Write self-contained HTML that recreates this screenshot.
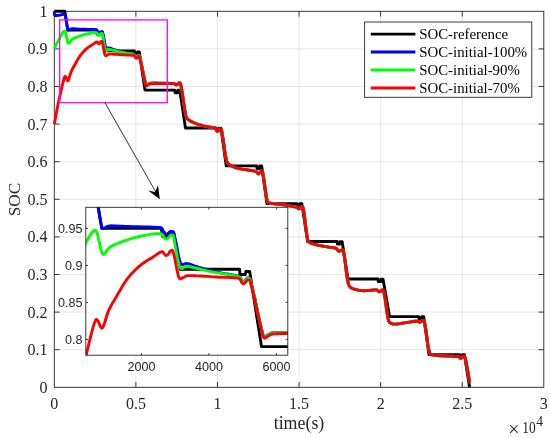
<!DOCTYPE html>
<html lang="en"><head><meta charset="utf-8"><title>SOC estimation</title>
<style>html,body{margin:0;padding:0;background:#fff}svg{display:block}</style></head>
<body>
<svg width="550" height="438" viewBox="0 0 550 438">
<defs>
<clipPath id="cm"><rect x="52.3" y="8.3" width="493.49999999999994" height="379.6"/></clipPath>
<clipPath id="ci"><rect x="85.8" y="207.3" width="202.0" height="147.89999999999998"/></clipPath>
</defs>
<rect width="550" height="438" fill="#fff"/>
<path d="M135.88,11.3 V387.3 M217.47,11.3 V387.3 M299.05,11.3 V387.3 M380.63,11.3 V387.3 M462.22,11.3 V387.3 M54.3,387.30 H543.8 M54.3,349.70 H543.8 M54.3,312.10 H543.8 M54.3,274.50 H543.8 M54.3,236.90 H543.8 M54.3,199.30 H543.8 M54.3,161.70 H543.8 M54.3,124.10 H543.8 M54.3,86.50 H543.8 M54.3,48.90 H543.8" stroke="#e1e1e1" stroke-width="0.85" fill="none"/>
<path d="M135.88,387.3 v-5.3 M135.88,11.3 v5.3 M217.47,387.3 v-5.3 M217.47,11.3 v5.3 M299.05,387.3 v-5.3 M299.05,11.3 v5.3 M380.63,387.3 v-5.3 M380.63,11.3 v5.3 M462.22,387.3 v-5.3 M462.22,11.3 v5.3 M54.3,349.70 h5.3 M543.8,349.70 h-5.3 M54.3,312.10 h5.3 M543.8,312.10 h-5.3 M54.3,274.50 h5.3 M543.8,274.50 h-5.3 M54.3,236.90 h5.3 M543.8,236.90 h-5.3 M54.3,199.30 h5.3 M543.8,199.30 h-5.3 M54.3,161.70 h5.3 M543.8,161.70 h-5.3 M54.3,124.10 h5.3 M543.8,124.10 h-5.3 M54.3,86.50 h5.3 M543.8,86.50 h-5.3 M54.3,48.90 h5.3 M543.8,48.90 h-5.3" stroke="#262626" stroke-width="0.9" fill="none"/>
<rect x="54.3" y="11.3" width="489.49999999999994" height="376.0" fill="none" stroke="#262626" stroke-width="0.9"/>
<g clip-path="url(#cm)" fill="none" stroke-linejoin="round" stroke-linecap="butt">
<path d="M54.30,11.30 L64.82,11.30 L67.76,30.10 L96.56,30.10 L97.21,34.24 L99.82,34.24 L100.31,32.36 L102.43,32.36 L105.70,50.89 L134.38,50.89 L134.55,53.52 L137.16,53.52 L137.40,52.02 L139.28,52.02 L144.99,90.15 L174.88,90.15 L175.04,92.78 L177.65,92.78 L177.90,90.26 L179.78,90.26 L185.49,128.01 L216.08,128.01 L216.24,130.64 L218.85,130.64 L219.10,128.12 L220.97,128.12 L226.20,165.84 L256.79,165.84 L256.95,168.47 L259.56,168.47 L259.81,165.95 L261.68,165.95 L266.91,203.59 L296.96,203.59 L297.12,206.22 L299.74,206.22 L299.98,203.70 L301.86,203.70 L307.57,241.49 L337.23,241.49 L337.39,244.12 L340.00,244.12 L340.25,241.60 L342.13,241.60 L348.00,279.01 L378.10,279.01 L378.27,281.64 L380.88,281.64 L381.12,279.12 L383.00,279.12 L389.53,316.61 L418.83,316.61 L418.99,319.24 L421.60,319.24 L421.85,316.72 L423.73,316.72 L428.95,354.59 L459.52,354.59 L459.69,357.22 L462.30,357.22 L462.54,354.70 L464.42,354.70 L469.56,387.30" stroke="#000" stroke-width="2.9"/>
<path d="M54.30,11.30 L54.34,12.11 L54.38,12.94 L54.42,13.72 L54.46,14.38 L54.50,14.85 L54.54,15.06 L54.67,15.21 L54.79,15.33 L54.91,15.41 L55.03,15.47 L55.16,15.50 L55.28,15.51 L55.93,15.50 L56.58,15.47 L57.24,15.43 L57.89,15.38 L58.54,15.31 L59.19,15.25 L59.96,15.12 L60.72,14.92 L61.48,14.68 L62.24,14.46 L63.00,14.30 L63.76,14.23 L63.99,14.24 L64.23,14.28 L64.46,14.34 L64.69,14.43 L64.92,14.54 L65.15,14.68 L65.29,14.97 L65.43,15.59 L65.57,16.43 L65.71,17.38 L65.84,18.34 L65.98,19.20 L66.24,20.73 L66.50,22.37 L66.77,24.02 L67.03,25.61 L67.29,27.03 L67.55,28.22 L67.65,28.65 L67.76,29.10 L67.86,29.52 L67.96,29.88 L68.07,30.12 L68.17,30.21 L68.31,30.20 L68.44,30.18 L68.58,30.14 L68.71,30.09 L68.85,30.04 L68.98,29.99 L69.23,29.87 L69.47,29.72 L69.72,29.54 L69.96,29.37 L70.21,29.22 L70.45,29.12 L70.75,29.04 L71.05,28.96 L71.35,28.89 L71.65,28.83 L71.95,28.80 L72.25,28.78 L73.61,28.81 L74.97,28.86 L76.33,28.94 L77.69,29.02 L79.05,29.10 L80.41,29.16 L82.91,29.23 L85.41,29.28 L87.90,29.33 L90.40,29.38 L92.90,29.46 L95.40,29.57 L95.58,29.59 L95.76,29.60 L95.94,29.62 L96.12,29.65 L96.30,29.68 L96.48,29.72 L96.66,29.85 L96.83,30.09 L97.01,30.42 L97.19,30.78 L97.36,31.13 L97.54,31.42 L97.77,31.77 L98.01,32.14 L98.24,32.50 L98.47,32.81 L98.71,33.03 L98.94,33.11 L99.12,33.08 L99.29,33.01 L99.46,32.91 L99.64,32.79 L99.81,32.67 L99.99,32.54 L100.17,32.40 L100.35,32.21 L100.53,32.00 L100.70,31.82 L100.88,31.69 L101.06,31.64 L101.27,31.65 L101.48,31.66 L101.69,31.68 L101.90,31.71 L102.11,31.75 L102.32,31.79 L102.50,32.03 L102.68,32.60 L102.87,33.40 L103.05,34.32 L103.23,35.26 L103.41,36.12 L103.79,37.94 L104.17,40.00 L104.56,42.14 L104.94,44.17 L105.32,45.91 L105.70,47.21 L105.81,47.51 L105.92,47.81 L106.02,48.08 L106.13,48.31 L106.24,48.47 L106.35,48.52 L106.51,48.52 L106.68,48.49 L106.84,48.46 L107.00,48.42 L107.17,48.38 L107.33,48.34 L107.53,48.27 L107.73,48.19 L107.92,48.09 L108.12,48.01 L108.32,47.95 L108.52,47.92 L109.27,47.99 L110.03,48.17 L110.78,48.42 L111.53,48.72 L112.29,49.01 L113.04,49.28 L113.98,49.58 L114.93,49.89 L115.87,50.20 L116.81,50.51 L117.76,50.81 L118.70,51.08 L119.93,51.41 L121.17,51.72 L122.40,52.02 L123.63,52.31 L124.86,52.58 L126.09,52.85 L127.33,53.09 L128.56,53.29 L129.80,53.49 L131.03,53.70 L132.27,53.96 L133.50,54.28 L133.68,54.34 L133.86,54.40 L134.04,54.48 L134.22,54.56 L134.40,54.65 L134.58,54.73 L134.74,54.93 L134.90,55.26 L135.07,55.64 L135.23,56.04 L135.39,56.39 L135.56,56.64 L135.67,56.77 L135.79,56.89 L135.90,57.00 L136.01,57.10 L136.13,57.16 L136.24,57.18 L136.40,57.16 L136.56,57.07 L136.72,56.95 L136.87,56.80 L137.03,56.65 L137.19,56.50 L137.38,56.29 L137.57,56.02 L137.76,55.73 L137.95,55.47 L138.14,55.29 L138.33,55.22 L138.47,55.22 L138.60,55.23 L138.74,55.23 L138.87,55.23 L139.01,55.24 L139.15,55.24 L139.31,55.40 L139.47,55.81 L139.64,56.40 L139.80,57.10 L139.96,57.81 L140.13,58.47 L140.94,61.78 L141.76,65.53 L142.57,69.53 L143.39,73.60 L144.20,77.54 L145.02,81.18 L145.16,81.78 L145.29,82.41 L145.43,83.04 L145.56,83.61 L145.70,84.08 L145.84,84.40 L145.95,84.58 L146.05,84.75 L146.16,84.90 L146.27,85.02 L146.38,85.10 L146.49,85.13 L146.68,85.10 L146.87,85.01 L147.06,84.87 L147.25,84.72 L147.44,84.57 L147.63,84.45 L148.09,84.19 L148.55,83.91 L149.00,83.63 L149.46,83.40 L149.92,83.23 L150.37,83.14 L151.56,83.09 L152.75,83.05 L153.94,83.03 L155.13,83.03 L156.31,83.04 L157.50,83.06 L159.34,83.09 L161.17,83.13 L163.01,83.17 L164.85,83.22 L166.68,83.26 L168.52,83.32 L169.47,83.35 L170.42,83.40 L171.37,83.46 L172.32,83.52 L173.28,83.59 L174.23,83.68 L174.42,83.74 L174.61,83.85 L174.80,83.99 L174.99,84.15 L175.18,84.31 L175.37,84.43 L175.53,84.53 L175.70,84.63 L175.86,84.72 L176.02,84.81 L176.19,84.86 L176.35,84.88 L176.57,84.84 L176.78,84.74 L177.00,84.58 L177.22,84.40 L177.44,84.22 L177.65,84.06 L177.93,83.83 L178.20,83.57 L178.47,83.30 L178.74,83.05 L179.01,82.88 L179.29,82.82 L179.45,82.83 L179.61,82.88 L179.78,82.95 L179.94,83.05 L180.10,83.17 L180.26,83.30 L180.46,83.64 L180.65,84.27 L180.84,85.10 L181.03,86.05 L181.22,87.05 L181.41,88.00 L182.09,91.72 L182.77,96.14 L183.45,100.89 L184.13,105.62 L184.81,109.96 L185.49,113.57 L185.62,114.19 L185.76,114.80 L185.89,115.37 L186.03,115.90 L186.17,116.37 L186.30,116.77 L186.46,117.18 L186.63,117.55 L186.79,117.89 L186.95,118.19 L187.12,118.44 L187.28,118.65 L187.96,119.34 L188.64,119.90 L189.32,120.36 L190.00,120.76 L190.68,121.12 L191.36,121.47 L192.70,122.14 L194.03,122.75 L195.37,123.30 L196.70,123.81 L198.04,124.27 L199.37,124.70 L200.84,125.14 L202.30,125.55 L203.77,125.94 L205.23,126.29 L206.70,126.60 L208.17,126.88 L209.13,127.03 L210.10,127.14 L211.07,127.24 L212.04,127.35 L213.01,127.50 L213.97,127.71 L214.23,127.79 L214.49,127.90 L214.74,128.04 L215.00,128.21 L215.25,128.40 L215.51,128.61 L215.73,128.88 L215.94,129.28 L216.16,129.73 L216.38,130.18 L216.60,130.58 L216.81,130.87 L216.95,131.00 L217.09,131.13 L217.22,131.25 L217.36,131.34 L217.49,131.41 L217.63,131.43 L217.82,131.39 L218.01,131.27 L218.20,131.09 L218.39,130.89 L218.58,130.68 L218.77,130.49 L219.02,130.23 L219.26,129.90 L219.51,129.57 L219.75,129.28 L220.00,129.07 L220.24,128.99 L220.40,129.00 L220.57,129.04 L220.73,129.09 L220.89,129.17 L221.06,129.26 L221.22,129.36 L221.41,129.71 L221.60,130.41 L221.79,131.35 L221.98,132.44 L222.17,133.57 L222.36,134.63 L222.99,138.29 L223.61,142.54 L224.24,147.03 L224.86,151.45 L225.49,155.44 L226.11,158.69 L226.28,159.41 L226.44,160.12 L226.60,160.78 L226.77,161.37 L226.93,161.88 L227.09,162.26 L227.28,162.61 L227.47,162.92 L227.66,163.18 L227.85,163.41 L228.05,163.60 L228.24,163.77 L229.86,164.93 L231.48,165.89 L233.10,166.67 L234.72,167.31 L236.34,167.84 L237.96,168.28 L240.14,168.76 L242.33,169.14 L244.51,169.46 L246.70,169.76 L248.88,170.08 L251.06,170.46 L251.94,170.62 L252.81,170.75 L253.68,170.90 L254.55,171.08 L255.43,171.33 L256.30,171.66 L256.49,171.79 L256.68,171.98 L256.87,172.22 L257.06,172.48 L257.25,172.74 L257.44,172.98 L257.58,173.16 L257.71,173.36 L257.85,173.57 L257.99,173.75 L258.12,173.87 L258.26,173.92 L258.45,173.89 L258.64,173.79 L258.83,173.66 L259.02,173.50 L259.21,173.33 L259.40,173.17 L259.73,172.82 L260.05,172.37 L260.38,171.88 L260.71,171.43 L261.03,171.09 L261.36,170.95 L261.49,170.94 L261.63,170.93 L261.77,170.92 L261.90,170.92 L262.04,170.91 L262.17,170.91 L262.34,171.10 L262.50,171.59 L262.66,172.30 L262.83,173.15 L262.99,174.03 L263.15,174.86 L263.78,178.37 L264.40,182.67 L265.03,187.33 L265.66,191.93 L266.28,196.06 L266.91,199.30 L267.04,199.89 L267.18,200.48 L267.31,201.04 L267.45,201.52 L267.59,201.89 L267.72,202.12 L267.94,202.33 L268.16,202.49 L268.37,202.63 L268.59,202.73 L268.81,202.81 L269.03,202.87 L271.48,203.39 L273.93,203.75 L276.39,204.00 L278.84,204.20 L281.29,204.44 L283.74,204.75 L285.55,205.05 L287.35,205.39 L289.15,205.75 L290.95,206.12 L292.75,206.48 L294.55,206.82 L294.97,206.89 L295.40,206.94 L295.82,206.99 L296.24,207.06 L296.67,207.15 L297.09,207.27 L297.26,207.38 L297.42,207.56 L297.58,207.79 L297.74,208.03 L297.91,208.24 L298.07,208.40 L298.19,208.49 L298.32,208.57 L298.44,208.65 L298.56,208.72 L298.68,208.76 L298.81,208.78 L298.98,208.74 L299.16,208.64 L299.34,208.49 L299.51,208.33 L299.69,208.17 L299.87,208.02 L300.18,207.77 L300.49,207.47 L300.80,207.18 L301.12,206.92 L301.43,206.74 L301.74,206.67 L301.89,206.67 L302.04,206.69 L302.19,206.71 L302.34,206.74 L302.49,206.78 L302.64,206.82 L302.83,207.07 L303.02,207.63 L303.21,208.42 L303.40,209.36 L303.59,210.36 L303.78,211.33 L304.35,214.78 L304.92,219.20 L305.50,224.10 L306.07,229.00 L306.64,233.43 L307.21,236.90 L307.37,237.71 L307.53,238.51 L307.70,239.25 L307.86,239.91 L308.02,240.46 L308.19,240.85 L308.43,241.27 L308.68,241.63 L308.92,241.93 L309.17,242.18 L309.41,242.38 L309.66,242.54 L310.79,243.13 L311.92,243.59 L313.05,243.95 L314.18,244.26 L315.31,244.53 L316.44,244.80 L318.39,245.25 L320.34,245.65 L322.29,246.01 L324.24,246.35 L326.19,246.68 L328.14,247.01 L329.49,247.21 L330.85,247.36 L332.20,247.51 L333.55,247.70 L334.90,247.97 L336.25,248.37 L336.52,248.55 L336.80,248.87 L337.07,249.28 L337.34,249.71 L337.61,250.11 L337.88,250.44 L338.06,250.62 L338.24,250.81 L338.41,251.00 L338.59,251.15 L338.77,251.26 L338.94,251.30 L339.15,251.28 L339.35,251.21 L339.56,251.12 L339.76,251.02 L339.96,250.91 L340.17,250.81 L340.50,250.64 L340.83,250.42 L341.16,250.19 L341.48,249.99 L341.81,249.85 L342.14,249.80 L342.30,249.82 L342.46,249.88 L342.62,249.98 L342.78,250.11 L342.94,250.26 L343.10,250.44 L343.27,250.78 L343.43,251.38 L343.59,252.18 L343.76,253.08 L343.92,254.03 L344.08,254.95 L344.71,258.88 L345.33,263.63 L345.96,268.75 L346.59,273.77 L347.21,278.22 L347.84,281.64 L347.99,282.29 L348.14,282.91 L348.29,283.48 L348.44,283.99 L348.58,284.44 L348.73,284.80 L349.02,285.38 L349.31,285.89 L349.59,286.34 L349.88,286.72 L350.16,287.03 L350.45,287.28 L351.13,287.76 L351.81,288.16 L352.50,288.50 L353.18,288.77 L353.86,289.01 L354.54,289.20 L356.01,289.58 L357.47,289.94 L358.94,290.25 L360.41,290.49 L361.87,290.65 L363.34,290.71 L364.59,290.69 L365.84,290.63 L367.09,290.56 L368.34,290.47 L369.59,290.38 L370.84,290.29 L371.80,290.22 L372.75,290.12 L373.70,290.02 L374.65,289.93 L375.60,289.87 L376.55,289.84 L376.83,289.90 L377.10,290.07 L377.37,290.30 L377.64,290.56 L377.91,290.82 L378.19,291.04 L378.38,291.19 L378.57,291.36 L378.76,291.52 L378.95,291.66 L379.14,291.76 L379.33,291.80 L379.52,291.77 L379.71,291.70 L379.90,291.60 L380.09,291.48 L380.28,291.35 L380.47,291.23 L380.76,291.01 L381.06,290.74 L381.35,290.44 L381.64,290.18 L381.94,289.99 L382.23,289.92 L382.40,289.93 L382.57,289.96 L382.74,290.02 L382.91,290.09 L383.08,290.19 L383.24,290.29 L383.43,290.59 L383.62,291.18 L383.82,291.97 L384.01,292.90 L384.20,293.87 L384.39,294.80 L385.01,298.30 L385.64,302.62 L386.26,307.30 L386.89,311.88 L387.51,315.89 L388.14,318.87 L388.30,319.46 L388.47,320.03 L388.63,320.55 L388.79,321.01 L388.95,321.40 L389.12,321.69 L389.39,322.06 L389.66,322.38 L389.93,322.65 L390.21,322.88 L390.48,323.06 L390.75,323.19 L391.38,323.45 L392.00,323.67 L392.63,323.86 L393.25,324.01 L393.88,324.10 L394.50,324.13 L396.46,324.06 L398.41,323.86 L400.37,323.58 L402.32,323.25 L404.28,322.92 L406.23,322.63 L407.93,322.36 L409.63,322.06 L411.33,321.74 L413.03,321.47 L414.73,321.27 L416.43,321.20 L416.72,321.21 L417.01,321.24 L417.30,321.29 L417.59,321.36 L417.87,321.43 L418.16,321.50 L418.41,321.60 L418.65,321.74 L418.90,321.90 L419.14,322.06 L419.39,322.17 L419.63,322.21 L419.87,322.18 L420.12,322.09 L420.36,321.96 L420.61,321.80 L420.85,321.64 L421.10,321.50 L421.40,321.31 L421.71,321.07 L422.01,320.83 L422.32,320.62 L422.62,320.47 L422.93,320.41 L423.08,320.42 L423.24,320.45 L423.40,320.50 L423.56,320.57 L423.71,320.65 L423.87,320.75 L424.06,321.02 L424.25,321.56 L424.44,322.28 L424.63,323.13 L424.82,324.02 L425.01,324.88 L425.75,328.87 L426.48,333.98 L427.22,339.55 L427.95,344.91 L428.69,349.40 L429.42,352.33 L429.58,352.76 L429.75,353.16 L429.91,353.52 L430.07,353.83 L430.24,354.07 L430.40,354.21 L430.81,354.43 L431.21,354.59 L431.62,354.72 L432.03,354.82 L432.44,354.90 L432.85,354.96 L434.24,355.17 L435.64,355.35 L437.03,355.49 L438.43,355.60 L439.82,355.70 L441.22,355.79 L443.65,355.92 L446.08,356.01 L448.52,356.09 L450.95,356.17 L453.39,356.26 L455.82,356.39 L456.29,356.42 L456.76,356.45 L457.22,356.48 L457.69,356.52 L458.16,356.58 L458.63,356.66 L458.84,356.75 L459.06,356.91 L459.28,357.13 L459.50,357.36 L459.71,357.59 L459.93,357.78 L460.08,357.91 L460.23,358.04 L460.37,358.17 L460.52,358.28 L460.67,358.36 L460.81,358.39 L460.99,358.35 L461.17,358.24 L461.35,358.09 L461.53,357.92 L461.71,357.75 L461.89,357.60 L462.19,357.34 L462.50,357.03 L462.80,356.73 L463.11,356.46 L463.41,356.28 L463.72,356.20 L463.88,356.22 L464.03,356.27 L464.19,356.34 L464.35,356.43 L464.51,356.54 L464.66,356.66 L465.10,357.46 L465.55,359.05 L465.99,361.18 L466.43,363.64 L466.87,366.20 L467.31,368.61 L467.67,370.56 L468.04,372.62 L468.41,374.78 L468.78,377.02 L469.14,379.33 L469.51,381.70 L469.55,381.93 L469.58,382.17 L469.62,382.42 L469.65,382.67 L469.69,382.92 L469.72,383.16" stroke="#0000ff" stroke-width="2.9"/>
<path d="M54.30,48.79 L54.71,47.89 L55.12,47.01 L55.52,46.14 L55.93,45.29 L56.34,44.45 L56.75,43.64 L57.27,42.62 L57.80,41.63 L58.32,40.67 L58.85,39.72 L59.37,38.77 L59.90,37.81 L60.32,37.00 L60.75,36.16 L61.18,35.33 L61.60,34.53 L62.03,33.78 L62.46,33.11 L62.70,32.74 L62.95,32.38 L63.19,32.03 L63.44,31.72 L63.68,31.47 L63.93,31.30 L64.02,31.26 L64.12,31.21 L64.22,31.17 L64.32,31.14 L64.42,31.12 L64.51,31.12 L64.63,31.14 L64.75,31.21 L64.87,31.33 L64.99,31.47 L65.11,31.62 L65.23,31.79 L65.48,32.33 L65.72,33.17 L65.97,34.22 L66.21,35.38 L66.46,36.55 L66.70,37.62 L66.89,38.44 L67.08,39.33 L67.27,40.22 L67.46,41.06 L67.65,41.78 L67.84,42.32 L67.94,42.56 L68.04,42.79 L68.14,43.00 L68.25,43.17 L68.35,43.29 L68.45,43.34 L68.56,43.32 L68.68,43.26 L68.80,43.18 L68.91,43.09 L69.03,42.99 L69.15,42.88 L69.39,42.63 L69.64,42.29 L69.88,41.90 L70.13,41.51 L70.37,41.13 L70.62,40.82 L70.85,40.56 L71.08,40.31 L71.31,40.08 L71.54,39.86 L71.77,39.67 L72.00,39.50 L73.06,38.85 L74.12,38.30 L75.19,37.82 L76.25,37.40 L77.31,37.00 L78.37,36.60 L79.55,36.17 L80.73,35.74 L81.92,35.34 L83.10,34.97 L84.28,34.63 L85.46,34.35 L87.12,33.98 L88.78,33.61 L90.43,33.27 L92.09,32.99 L93.75,32.80 L95.40,32.73 L95.57,32.73 L95.73,32.74 L95.90,32.75 L96.07,32.77 L96.23,32.79 L96.40,32.81 L96.56,32.88 L96.72,33.02 L96.89,33.21 L97.05,33.43 L97.21,33.66 L97.38,33.86 L97.61,34.17 L97.85,34.54 L98.09,34.91 L98.32,35.23 L98.56,35.46 L98.80,35.55 L98.99,35.52 L99.19,35.42 L99.39,35.29 L99.59,35.13 L99.79,34.96 L99.99,34.80 L100.22,34.58 L100.45,34.29 L100.69,33.99 L100.92,33.72 L101.16,33.52 L101.39,33.45 L101.54,33.45 L101.68,33.47 L101.83,33.51 L101.98,33.55 L102.12,33.61 L102.27,33.67 L102.43,33.98 L102.60,34.67 L102.76,35.62 L102.92,36.70 L103.09,37.78 L103.25,38.75 L103.53,40.30 L103.80,41.94 L104.08,43.61 L104.36,45.19 L104.64,46.61 L104.91,47.77 L105.04,48.25 L105.18,48.71 L105.31,49.14 L105.44,49.52 L105.57,49.82 L105.70,50.03 L105.81,50.15 L105.92,50.27 L106.02,50.37 L106.13,50.45 L106.24,50.50 L106.35,50.52 L106.54,50.49 L106.73,50.41 L106.92,50.30 L107.11,50.17 L107.30,50.05 L107.49,49.95 L107.72,49.85 L107.95,49.73 L108.18,49.62 L108.41,49.52 L108.63,49.45 L108.86,49.43 L109.56,49.46 L110.26,49.56 L110.95,49.71 L111.65,49.88 L112.34,50.05 L113.04,50.22 L114.10,50.46 L115.17,50.73 L116.23,51.02 L117.29,51.30 L118.36,51.58 L119.42,51.83 L121.77,52.30 L124.11,52.69 L126.46,53.06 L128.81,53.46 L131.15,53.93 L133.50,54.54 L133.68,54.60 L133.86,54.67 L134.04,54.75 L134.22,54.83 L134.40,54.91 L134.58,54.99 L134.74,55.19 L134.90,55.52 L135.07,55.90 L135.23,56.30 L135.39,56.65 L135.56,56.89 L135.67,57.02 L135.79,57.14 L135.90,57.26 L136.01,57.35 L136.13,57.41 L136.24,57.44 L136.40,57.41 L136.56,57.32 L136.72,57.20 L136.87,57.05 L137.03,56.89 L137.19,56.74 L137.38,56.53 L137.57,56.26 L137.76,55.97 L137.95,55.71 L138.14,55.52 L138.33,55.45 L138.47,55.46 L138.60,55.46 L138.74,55.46 L138.87,55.47 L139.01,55.47 L139.15,55.47 L139.31,55.63 L139.47,56.04 L139.64,56.63 L139.80,57.32 L139.96,58.03 L140.13,58.69 L140.94,62.00 L141.76,65.74 L142.57,69.74 L143.39,73.80 L144.20,77.74 L145.02,81.37 L145.16,81.97 L145.29,82.60 L145.43,83.23 L145.56,83.79 L145.70,84.26 L145.84,84.58 L145.95,84.76 L146.05,84.93 L146.16,85.08 L146.27,85.20 L146.38,85.28 L146.49,85.31 L146.68,85.28 L146.87,85.18 L147.06,85.05 L147.25,84.90 L147.44,84.75 L147.63,84.62 L148.09,84.36 L148.55,84.07 L149.00,83.79 L149.46,83.56 L149.92,83.38 L150.37,83.30 L151.56,83.23 L152.75,83.18 L153.94,83.16 L155.13,83.15 L156.31,83.15 L157.50,83.16 L159.34,83.18 L161.17,83.21 L163.01,83.23 L164.85,83.26 L166.68,83.30 L168.52,83.34 L169.47,83.37 L170.42,83.41 L171.37,83.46 L172.32,83.52 L173.28,83.59 L174.23,83.68 L174.42,83.74 L174.61,83.85 L174.80,83.99 L174.99,84.15 L175.18,84.31 L175.37,84.43 L175.53,84.53 L175.70,84.63 L175.86,84.72 L176.02,84.81 L176.19,84.86 L176.35,84.88 L176.57,84.84 L176.78,84.74 L177.00,84.58 L177.22,84.40 L177.44,84.22 L177.65,84.06 L177.93,83.83 L178.20,83.57 L178.47,83.30 L178.74,83.05 L179.01,82.88 L179.29,82.82 L179.45,82.83 L179.61,82.88 L179.78,82.95 L179.94,83.05 L180.10,83.17 L180.26,83.30 L180.46,83.64 L180.65,84.27 L180.84,85.10 L181.03,86.05 L181.22,87.05 L181.41,88.00 L182.09,91.72 L182.77,96.14 L183.45,100.89 L184.13,105.62 L184.81,109.96 L185.49,113.57 L185.62,114.19 L185.76,114.80 L185.89,115.37 L186.03,115.90 L186.17,116.37 L186.30,116.77 L186.46,117.18 L186.63,117.55 L186.79,117.89 L186.95,118.19 L187.12,118.44 L187.28,118.65 L187.96,119.34 L188.64,119.90 L189.32,120.36 L190.00,120.76 L190.68,121.12 L191.36,121.47 L192.70,122.14 L194.03,122.75 L195.37,123.30 L196.70,123.81 L198.04,124.27 L199.37,124.70 L200.84,125.14 L202.30,125.55 L203.77,125.94 L205.23,126.29 L206.70,126.60 L208.17,126.88 L209.13,127.03 L210.10,127.14 L211.07,127.24 L212.04,127.35 L213.01,127.50 L213.97,127.71 L214.23,127.79 L214.49,127.90 L214.74,128.04 L215.00,128.21 L215.25,128.40 L215.51,128.61 L215.73,128.88 L215.94,129.28 L216.16,129.73 L216.38,130.18 L216.60,130.58 L216.81,130.87 L216.95,131.00 L217.09,131.13 L217.22,131.25 L217.36,131.34 L217.49,131.41 L217.63,131.43 L217.82,131.39 L218.01,131.27 L218.20,131.09 L218.39,130.89 L218.58,130.68 L218.77,130.49 L219.02,130.23 L219.26,129.90 L219.51,129.57 L219.75,129.28 L220.00,129.07 L220.24,128.99 L220.40,129.00 L220.57,129.04 L220.73,129.09 L220.89,129.17 L221.06,129.26 L221.22,129.36 L221.41,129.71 L221.60,130.41 L221.79,131.35 L221.98,132.44 L222.17,133.57 L222.36,134.63 L222.99,138.29 L223.61,142.54 L224.24,147.03 L224.86,151.45 L225.49,155.44 L226.11,158.69 L226.28,159.41 L226.44,160.12 L226.60,160.78 L226.77,161.37 L226.93,161.88 L227.09,162.26 L227.28,162.61 L227.47,162.92 L227.66,163.18 L227.85,163.41 L228.05,163.60 L228.24,163.77 L229.86,164.93 L231.48,165.89 L233.10,166.67 L234.72,167.31 L236.34,167.84 L237.96,168.28 L240.14,168.76 L242.33,169.14 L244.51,169.46 L246.70,169.76 L248.88,170.08 L251.06,170.46 L251.94,170.62 L252.81,170.75 L253.68,170.90 L254.55,171.08 L255.43,171.33 L256.30,171.66 L256.49,171.79 L256.68,171.98 L256.87,172.22 L257.06,172.48 L257.25,172.74 L257.44,172.98 L257.58,173.16 L257.71,173.36 L257.85,173.57 L257.99,173.75 L258.12,173.87 L258.26,173.92 L258.45,173.89 L258.64,173.79 L258.83,173.66 L259.02,173.50 L259.21,173.33 L259.40,173.17 L259.73,172.82 L260.05,172.37 L260.38,171.88 L260.71,171.43 L261.03,171.09 L261.36,170.95 L261.49,170.94 L261.63,170.93 L261.77,170.92 L261.90,170.92 L262.04,170.91 L262.17,170.91 L262.34,171.10 L262.50,171.59 L262.66,172.30 L262.83,173.15 L262.99,174.03 L263.15,174.86 L263.78,178.37 L264.40,182.67 L265.03,187.33 L265.66,191.93 L266.28,196.06 L266.91,199.30 L267.04,199.89 L267.18,200.48 L267.31,201.04 L267.45,201.52 L267.59,201.89 L267.72,202.12 L267.94,202.33 L268.16,202.49 L268.37,202.63 L268.59,202.73 L268.81,202.81 L269.03,202.87 L271.48,203.39 L273.93,203.75 L276.39,204.00 L278.84,204.20 L281.29,204.44 L283.74,204.75 L285.55,205.05 L287.35,205.39 L289.15,205.75 L290.95,206.12 L292.75,206.48 L294.55,206.82 L294.97,206.89 L295.40,206.94 L295.82,206.99 L296.24,207.06 L296.67,207.15 L297.09,207.27 L297.26,207.38 L297.42,207.56 L297.58,207.79 L297.74,208.03 L297.91,208.24 L298.07,208.40 L298.19,208.49 L298.32,208.57 L298.44,208.65 L298.56,208.72 L298.68,208.76 L298.81,208.78 L298.98,208.74 L299.16,208.64 L299.34,208.49 L299.51,208.33 L299.69,208.17 L299.87,208.02 L300.18,207.77 L300.49,207.47 L300.80,207.18 L301.12,206.92 L301.43,206.74 L301.74,206.67 L301.89,206.67 L302.04,206.69 L302.19,206.71 L302.34,206.74 L302.49,206.78 L302.64,206.82 L302.83,207.07 L303.02,207.63 L303.21,208.42 L303.40,209.36 L303.59,210.36 L303.78,211.33 L304.35,214.78 L304.92,219.20 L305.50,224.10 L306.07,229.00 L306.64,233.43 L307.21,236.90 L307.37,237.71 L307.53,238.51 L307.70,239.25 L307.86,239.91 L308.02,240.46 L308.19,240.85 L308.43,241.27 L308.68,241.63 L308.92,241.93 L309.17,242.18 L309.41,242.38 L309.66,242.54 L310.79,243.13 L311.92,243.59 L313.05,243.95 L314.18,244.26 L315.31,244.53 L316.44,244.80 L318.39,245.25 L320.34,245.65 L322.29,246.01 L324.24,246.35 L326.19,246.68 L328.14,247.01 L329.49,247.21 L330.85,247.36 L332.20,247.51 L333.55,247.70 L334.90,247.97 L336.25,248.37 L336.52,248.55 L336.80,248.87 L337.07,249.28 L337.34,249.71 L337.61,250.11 L337.88,250.44 L338.06,250.62 L338.24,250.81 L338.41,251.00 L338.59,251.15 L338.77,251.26 L338.94,251.30 L339.15,251.28 L339.35,251.21 L339.56,251.12 L339.76,251.02 L339.96,250.91 L340.17,250.81 L340.50,250.64 L340.83,250.42 L341.16,250.19 L341.48,249.99 L341.81,249.85 L342.14,249.80 L342.30,249.82 L342.46,249.88 L342.62,249.98 L342.78,250.11 L342.94,250.26 L343.10,250.44 L343.27,250.78 L343.43,251.38 L343.59,252.18 L343.76,253.08 L343.92,254.03 L344.08,254.95 L344.71,258.88 L345.33,263.63 L345.96,268.75 L346.59,273.77 L347.21,278.22 L347.84,281.64 L347.99,282.29 L348.14,282.91 L348.29,283.48 L348.44,283.99 L348.58,284.44 L348.73,284.80 L349.02,285.38 L349.31,285.89 L349.59,286.34 L349.88,286.72 L350.16,287.03 L350.45,287.28 L351.13,287.76 L351.81,288.16 L352.50,288.50 L353.18,288.77 L353.86,289.01 L354.54,289.20 L356.01,289.58 L357.47,289.94 L358.94,290.25 L360.41,290.49 L361.87,290.65 L363.34,290.71 L364.59,290.69 L365.84,290.63 L367.09,290.56 L368.34,290.47 L369.59,290.38 L370.84,290.29 L371.80,290.22 L372.75,290.12 L373.70,290.02 L374.65,289.93 L375.60,289.87 L376.55,289.84 L376.83,289.90 L377.10,290.07 L377.37,290.30 L377.64,290.56 L377.91,290.82 L378.19,291.04 L378.38,291.19 L378.57,291.36 L378.76,291.52 L378.95,291.66 L379.14,291.76 L379.33,291.80 L379.52,291.77 L379.71,291.70 L379.90,291.60 L380.09,291.48 L380.28,291.35 L380.47,291.23 L380.76,291.01 L381.06,290.74 L381.35,290.44 L381.64,290.18 L381.94,289.99 L382.23,289.92 L382.40,289.93 L382.57,289.96 L382.74,290.02 L382.91,290.09 L383.08,290.19 L383.24,290.29 L383.43,290.59 L383.62,291.18 L383.82,291.97 L384.01,292.90 L384.20,293.87 L384.39,294.80 L385.01,298.30 L385.64,302.62 L386.26,307.30 L386.89,311.88 L387.51,315.89 L388.14,318.87 L388.30,319.46 L388.47,320.03 L388.63,320.55 L388.79,321.01 L388.95,321.40 L389.12,321.69 L389.39,322.06 L389.66,322.38 L389.93,322.65 L390.21,322.88 L390.48,323.06 L390.75,323.19 L391.38,323.45 L392.00,323.67 L392.63,323.86 L393.25,324.01 L393.88,324.10 L394.50,324.13 L396.46,324.06 L398.41,323.86 L400.37,323.58 L402.32,323.25 L404.28,322.92 L406.23,322.63 L407.93,322.36 L409.63,322.06 L411.33,321.74 L413.03,321.47 L414.73,321.27 L416.43,321.20 L416.72,321.21 L417.01,321.24 L417.30,321.29 L417.59,321.36 L417.87,321.43 L418.16,321.50 L418.41,321.60 L418.65,321.74 L418.90,321.90 L419.14,322.06 L419.39,322.17 L419.63,322.21 L419.87,322.18 L420.12,322.09 L420.36,321.96 L420.61,321.80 L420.85,321.64 L421.10,321.50 L421.40,321.31 L421.71,321.07 L422.01,320.83 L422.32,320.62 L422.62,320.47 L422.93,320.41 L423.08,320.42 L423.24,320.45 L423.40,320.50 L423.56,320.57 L423.71,320.65 L423.87,320.75 L424.06,321.02 L424.25,321.56 L424.44,322.28 L424.63,323.13 L424.82,324.02 L425.01,324.88 L425.75,328.87 L426.48,333.98 L427.22,339.55 L427.95,344.91 L428.69,349.40 L429.42,352.33 L429.58,352.76 L429.75,353.16 L429.91,353.52 L430.07,353.83 L430.24,354.07 L430.40,354.21 L430.81,354.43 L431.21,354.59 L431.62,354.72 L432.03,354.82 L432.44,354.90 L432.85,354.96 L434.24,355.17 L435.64,355.35 L437.03,355.49 L438.43,355.60 L439.82,355.70 L441.22,355.79 L443.65,355.92 L446.08,356.01 L448.52,356.09 L450.95,356.17 L453.39,356.26 L455.82,356.39 L456.29,356.42 L456.76,356.45 L457.22,356.48 L457.69,356.52 L458.16,356.58 L458.63,356.66 L458.84,356.75 L459.06,356.91 L459.28,357.13 L459.50,357.36 L459.71,357.59 L459.93,357.78 L460.08,357.91 L460.23,358.04 L460.37,358.17 L460.52,358.28 L460.67,358.36 L460.81,358.39 L460.99,358.35 L461.17,358.24 L461.35,358.09 L461.53,357.92 L461.71,357.75 L461.89,357.60 L462.19,357.34 L462.50,357.03 L462.80,356.73 L463.11,356.46 L463.41,356.28 L463.72,356.20 L463.88,356.22 L464.03,356.27 L464.19,356.34 L464.35,356.43 L464.51,356.54 L464.66,356.66 L465.10,357.46 L465.55,359.05 L465.99,361.18 L466.43,363.64 L466.87,366.20 L467.31,368.61 L467.67,370.56 L468.04,372.62 L468.41,374.78 L468.78,377.02 L469.14,379.33 L469.51,381.70 L469.55,381.93 L469.58,382.17 L469.62,382.42 L469.65,382.67 L469.69,382.92 L469.72,383.16" stroke="#00ff00" stroke-width="2.9"/>
<path d="M54.30,124.10 L54.63,122.31 L54.95,120.54 L55.28,118.78 L55.61,117.03 L55.93,115.29 L56.26,113.57 L56.61,111.71 L56.97,109.84 L57.32,107.98 L57.67,106.16 L58.03,104.38 L58.38,102.67 L58.69,101.20 L59.01,99.79 L59.33,98.40 L59.64,97.04 L59.96,95.69 L60.27,94.32 L60.69,92.48 L61.11,90.61 L61.53,88.76 L61.95,86.93 L62.37,85.17 L62.78,83.49 L63.06,82.42 L63.33,81.33 L63.60,80.28 L63.87,79.29 L64.14,78.40 L64.42,77.66 L64.53,77.38 L64.64,77.08 L64.76,76.80 L64.87,76.57 L64.99,76.41 L65.10,76.35 L65.26,76.39 L65.42,76.49 L65.57,76.65 L65.73,76.85 L65.89,77.07 L66.05,77.29 L66.24,77.65 L66.43,78.15 L66.62,78.71 L66.81,79.28 L67.00,79.77 L67.19,80.11 L67.31,80.26 L67.42,80.41 L67.54,80.54 L67.66,80.65 L67.77,80.72 L67.89,80.75 L68.02,80.70 L68.15,80.55 L68.28,80.35 L68.40,80.09 L68.53,79.82 L68.66,79.54 L68.82,79.14 L68.98,78.64 L69.15,78.08 L69.31,77.49 L69.47,76.90 L69.64,76.35 L69.87,75.60 L70.10,74.83 L70.33,74.08 L70.56,73.35 L70.79,72.67 L71.02,72.06 L71.67,70.58 L72.31,69.26 L72.96,68.06 L73.60,66.93 L74.25,65.82 L74.89,64.69 L75.84,62.98 L76.78,61.25 L77.72,59.57 L78.67,57.96 L79.61,56.47 L80.55,55.14 L81.61,53.82 L82.66,52.58 L83.72,51.44 L84.77,50.38 L85.83,49.39 L86.88,48.49 L87.95,47.65 L89.02,46.89 L90.09,46.19 L91.16,45.51 L92.23,44.83 L93.30,44.12 L93.76,43.79 L94.22,43.43 L94.68,43.07 L95.15,42.74 L95.61,42.46 L96.07,42.24 L96.23,42.18 L96.40,42.12 L96.56,42.07 L96.72,42.02 L96.89,41.99 L97.05,41.98 L97.24,42.05 L97.43,42.23 L97.62,42.49 L97.81,42.77 L98.00,43.04 L98.19,43.26 L98.32,43.38 L98.44,43.52 L98.57,43.65 L98.69,43.76 L98.82,43.83 L98.94,43.86 L99.09,43.84 L99.24,43.77 L99.38,43.66 L99.53,43.54 L99.68,43.40 L99.82,43.26 L100.01,43.03 L100.20,42.72 L100.39,42.37 L100.58,42.03 L100.78,41.75 L100.97,41.57 L101.11,41.48 L101.25,41.40 L101.40,41.33 L101.54,41.28 L101.69,41.24 L101.83,41.23 L101.96,41.32 L102.09,41.57 L102.21,41.92 L102.34,42.35 L102.47,42.81 L102.60,43.26 L102.87,44.34 L103.14,45.67 L103.41,47.16 L103.69,48.70 L103.96,50.19 L104.23,51.53 L104.36,52.17 L104.50,52.84 L104.64,53.49 L104.77,54.09 L104.91,54.57 L105.04,54.92 L105.15,55.11 L105.26,55.30 L105.36,55.46 L105.47,55.59 L105.58,55.67 L105.68,55.71 L105.90,55.67 L106.12,55.59 L106.34,55.48 L106.56,55.34 L106.78,55.21 L107.00,55.10 L107.43,54.90 L107.86,54.68 L108.29,54.46 L108.72,54.27 L109.15,54.14 L109.58,54.09 L110.43,54.10 L111.28,54.11 L112.13,54.14 L112.97,54.17 L113.82,54.20 L114.67,54.24 L116.05,54.31 L117.43,54.40 L118.81,54.50 L120.19,54.61 L121.57,54.71 L122.94,54.80 L124.70,54.89 L126.46,54.95 L128.22,55.00 L129.98,55.08 L131.74,55.19 L133.50,55.37 L133.68,55.40 L133.86,55.45 L134.04,55.53 L134.22,55.62 L134.40,55.73 L134.58,55.86 L134.74,56.06 L134.90,56.37 L135.07,56.76 L135.23,57.15 L135.39,57.49 L135.56,57.74 L135.67,57.86 L135.79,57.98 L135.90,58.09 L136.01,58.18 L136.13,58.24 L136.24,58.26 L136.40,58.23 L136.56,58.14 L136.72,58.01 L136.87,57.86 L137.03,57.70 L137.19,57.55 L137.38,57.33 L137.57,57.05 L137.76,56.76 L137.95,56.50 L138.14,56.31 L138.33,56.23 L138.47,56.23 L138.60,56.23 L138.74,56.23 L138.87,56.23 L139.01,56.23 L139.15,56.23 L139.31,56.39 L139.47,56.79 L139.64,57.38 L139.80,58.07 L139.96,58.77 L140.13,59.43 L140.94,62.71 L141.76,66.44 L142.57,70.42 L143.39,74.46 L144.20,78.38 L145.02,81.99 L145.16,82.59 L145.29,83.22 L145.43,83.84 L145.56,84.40 L145.70,84.87 L145.84,85.18 L145.95,85.36 L146.05,85.53 L146.16,85.68 L146.27,85.79 L146.38,85.87 L146.49,85.90 L146.68,85.86 L146.87,85.76 L147.06,85.62 L147.25,85.47 L147.44,85.31 L147.63,85.18 L148.09,84.91 L148.55,84.61 L149.00,84.32 L149.46,84.07 L149.92,83.89 L150.37,83.79 L151.56,83.70 L152.75,83.63 L153.94,83.57 L155.13,83.54 L156.31,83.51 L157.50,83.49 L159.34,83.47 L161.17,83.45 L163.01,83.44 L164.85,83.43 L166.68,83.42 L168.52,83.42 L169.47,83.42 L170.42,83.44 L171.37,83.47 L172.32,83.52 L173.28,83.59 L174.23,83.68 L174.42,83.74 L174.61,83.85 L174.80,83.99 L174.99,84.15 L175.18,84.31 L175.37,84.43 L175.53,84.53 L175.70,84.63 L175.86,84.72 L176.02,84.81 L176.19,84.86 L176.35,84.88 L176.57,84.84 L176.78,84.74 L177.00,84.58 L177.22,84.40 L177.44,84.22 L177.65,84.06 L177.93,83.83 L178.20,83.57 L178.47,83.30 L178.74,83.05 L179.01,82.88 L179.29,82.82 L179.45,82.83 L179.61,82.88 L179.78,82.95 L179.94,83.05 L180.10,83.17 L180.26,83.30 L180.46,83.64 L180.65,84.27 L180.84,85.10 L181.03,86.05 L181.22,87.05 L181.41,88.00 L182.09,91.72 L182.77,96.14 L183.45,100.89 L184.13,105.62 L184.81,109.96 L185.49,113.57 L185.62,114.19 L185.76,114.80 L185.89,115.37 L186.03,115.90 L186.17,116.37 L186.30,116.77 L186.46,117.18 L186.63,117.55 L186.79,117.89 L186.95,118.19 L187.12,118.44 L187.28,118.65 L187.96,119.34 L188.64,119.90 L189.32,120.36 L190.00,120.76 L190.68,121.12 L191.36,121.47 L192.70,122.14 L194.03,122.75 L195.37,123.30 L196.70,123.81 L198.04,124.27 L199.37,124.70 L200.84,125.14 L202.30,125.55 L203.77,125.94 L205.23,126.29 L206.70,126.60 L208.17,126.88 L209.13,127.03 L210.10,127.14 L211.07,127.24 L212.04,127.35 L213.01,127.50 L213.97,127.71 L214.23,127.79 L214.49,127.90 L214.74,128.04 L215.00,128.21 L215.25,128.40 L215.51,128.61 L215.73,128.88 L215.94,129.28 L216.16,129.73 L216.38,130.18 L216.60,130.58 L216.81,130.87 L216.95,131.00 L217.09,131.13 L217.22,131.25 L217.36,131.34 L217.49,131.41 L217.63,131.43 L217.82,131.39 L218.01,131.27 L218.20,131.09 L218.39,130.89 L218.58,130.68 L218.77,130.49 L219.02,130.23 L219.26,129.90 L219.51,129.57 L219.75,129.28 L220.00,129.07 L220.24,128.99 L220.40,129.00 L220.57,129.04 L220.73,129.09 L220.89,129.17 L221.06,129.26 L221.22,129.36 L221.41,129.71 L221.60,130.41 L221.79,131.35 L221.98,132.44 L222.17,133.57 L222.36,134.63 L222.99,138.29 L223.61,142.54 L224.24,147.03 L224.86,151.45 L225.49,155.44 L226.11,158.69 L226.28,159.41 L226.44,160.12 L226.60,160.78 L226.77,161.37 L226.93,161.88 L227.09,162.26 L227.28,162.61 L227.47,162.92 L227.66,163.18 L227.85,163.41 L228.05,163.60 L228.24,163.77 L229.86,164.93 L231.48,165.89 L233.10,166.67 L234.72,167.31 L236.34,167.84 L237.96,168.28 L240.14,168.76 L242.33,169.14 L244.51,169.46 L246.70,169.76 L248.88,170.08 L251.06,170.46 L251.94,170.62 L252.81,170.75 L253.68,170.90 L254.55,171.08 L255.43,171.33 L256.30,171.66 L256.49,171.79 L256.68,171.98 L256.87,172.22 L257.06,172.48 L257.25,172.74 L257.44,172.98 L257.58,173.16 L257.71,173.36 L257.85,173.57 L257.99,173.75 L258.12,173.87 L258.26,173.92 L258.45,173.89 L258.64,173.79 L258.83,173.66 L259.02,173.50 L259.21,173.33 L259.40,173.17 L259.73,172.82 L260.05,172.37 L260.38,171.88 L260.71,171.43 L261.03,171.09 L261.36,170.95 L261.49,170.94 L261.63,170.93 L261.77,170.92 L261.90,170.92 L262.04,170.91 L262.17,170.91 L262.34,171.10 L262.50,171.59 L262.66,172.30 L262.83,173.15 L262.99,174.03 L263.15,174.86 L263.78,178.37 L264.40,182.67 L265.03,187.33 L265.66,191.93 L266.28,196.06 L266.91,199.30 L267.04,199.89 L267.18,200.48 L267.31,201.04 L267.45,201.52 L267.59,201.89 L267.72,202.12 L267.94,202.33 L268.16,202.49 L268.37,202.63 L268.59,202.73 L268.81,202.81 L269.03,202.87 L271.48,203.39 L273.93,203.75 L276.39,204.00 L278.84,204.20 L281.29,204.44 L283.74,204.75 L285.55,205.05 L287.35,205.39 L289.15,205.75 L290.95,206.12 L292.75,206.48 L294.55,206.82 L294.97,206.89 L295.40,206.94 L295.82,206.99 L296.24,207.06 L296.67,207.15 L297.09,207.27 L297.26,207.38 L297.42,207.56 L297.58,207.79 L297.74,208.03 L297.91,208.24 L298.07,208.40 L298.19,208.49 L298.32,208.57 L298.44,208.65 L298.56,208.72 L298.68,208.76 L298.81,208.78 L298.98,208.74 L299.16,208.64 L299.34,208.49 L299.51,208.33 L299.69,208.17 L299.87,208.02 L300.18,207.77 L300.49,207.47 L300.80,207.18 L301.12,206.92 L301.43,206.74 L301.74,206.67 L301.89,206.67 L302.04,206.69 L302.19,206.71 L302.34,206.74 L302.49,206.78 L302.64,206.82 L302.83,207.07 L303.02,207.63 L303.21,208.42 L303.40,209.36 L303.59,210.36 L303.78,211.33 L304.35,214.78 L304.92,219.20 L305.50,224.10 L306.07,229.00 L306.64,233.43 L307.21,236.90 L307.37,237.71 L307.53,238.51 L307.70,239.25 L307.86,239.91 L308.02,240.46 L308.19,240.85 L308.43,241.27 L308.68,241.63 L308.92,241.93 L309.17,242.18 L309.41,242.38 L309.66,242.54 L310.79,243.13 L311.92,243.59 L313.05,243.95 L314.18,244.26 L315.31,244.53 L316.44,244.80 L318.39,245.25 L320.34,245.65 L322.29,246.01 L324.24,246.35 L326.19,246.68 L328.14,247.01 L329.49,247.21 L330.85,247.36 L332.20,247.51 L333.55,247.70 L334.90,247.97 L336.25,248.37 L336.52,248.55 L336.80,248.87 L337.07,249.28 L337.34,249.71 L337.61,250.11 L337.88,250.44 L338.06,250.62 L338.24,250.81 L338.41,251.00 L338.59,251.15 L338.77,251.26 L338.94,251.30 L339.15,251.28 L339.35,251.21 L339.56,251.12 L339.76,251.02 L339.96,250.91 L340.17,250.81 L340.50,250.64 L340.83,250.42 L341.16,250.19 L341.48,249.99 L341.81,249.85 L342.14,249.80 L342.30,249.82 L342.46,249.88 L342.62,249.98 L342.78,250.11 L342.94,250.26 L343.10,250.44 L343.27,250.78 L343.43,251.38 L343.59,252.18 L343.76,253.08 L343.92,254.03 L344.08,254.95 L344.71,258.88 L345.33,263.63 L345.96,268.75 L346.59,273.77 L347.21,278.22 L347.84,281.64 L347.99,282.29 L348.14,282.91 L348.29,283.48 L348.44,283.99 L348.58,284.44 L348.73,284.80 L349.02,285.38 L349.31,285.89 L349.59,286.34 L349.88,286.72 L350.16,287.03 L350.45,287.28 L351.13,287.76 L351.81,288.16 L352.50,288.50 L353.18,288.77 L353.86,289.01 L354.54,289.20 L356.01,289.58 L357.47,289.94 L358.94,290.25 L360.41,290.49 L361.87,290.65 L363.34,290.71 L364.59,290.69 L365.84,290.63 L367.09,290.56 L368.34,290.47 L369.59,290.38 L370.84,290.29 L371.80,290.22 L372.75,290.12 L373.70,290.02 L374.65,289.93 L375.60,289.87 L376.55,289.84 L376.83,289.90 L377.10,290.07 L377.37,290.30 L377.64,290.56 L377.91,290.82 L378.19,291.04 L378.38,291.19 L378.57,291.36 L378.76,291.52 L378.95,291.66 L379.14,291.76 L379.33,291.80 L379.52,291.77 L379.71,291.70 L379.90,291.60 L380.09,291.48 L380.28,291.35 L380.47,291.23 L380.76,291.01 L381.06,290.74 L381.35,290.44 L381.64,290.18 L381.94,289.99 L382.23,289.92 L382.40,289.93 L382.57,289.96 L382.74,290.02 L382.91,290.09 L383.08,290.19 L383.24,290.29 L383.43,290.59 L383.62,291.18 L383.82,291.97 L384.01,292.90 L384.20,293.87 L384.39,294.80 L385.01,298.30 L385.64,302.62 L386.26,307.30 L386.89,311.88 L387.51,315.89 L388.14,318.87 L388.30,319.46 L388.47,320.03 L388.63,320.55 L388.79,321.01 L388.95,321.40 L389.12,321.69 L389.39,322.06 L389.66,322.38 L389.93,322.65 L390.21,322.88 L390.48,323.06 L390.75,323.19 L391.38,323.45 L392.00,323.67 L392.63,323.86 L393.25,324.01 L393.88,324.10 L394.50,324.13 L396.46,324.06 L398.41,323.86 L400.37,323.58 L402.32,323.25 L404.28,322.92 L406.23,322.63 L407.93,322.36 L409.63,322.06 L411.33,321.74 L413.03,321.47 L414.73,321.27 L416.43,321.20 L416.72,321.21 L417.01,321.24 L417.30,321.29 L417.59,321.36 L417.87,321.43 L418.16,321.50 L418.41,321.60 L418.65,321.74 L418.90,321.90 L419.14,322.06 L419.39,322.17 L419.63,322.21 L419.87,322.18 L420.12,322.09 L420.36,321.96 L420.61,321.80 L420.85,321.64 L421.10,321.50 L421.40,321.31 L421.71,321.07 L422.01,320.83 L422.32,320.62 L422.62,320.47 L422.93,320.41 L423.08,320.42 L423.24,320.45 L423.40,320.50 L423.56,320.57 L423.71,320.65 L423.87,320.75 L424.06,321.02 L424.25,321.56 L424.44,322.28 L424.63,323.13 L424.82,324.02 L425.01,324.88 L425.75,328.87 L426.48,333.98 L427.22,339.55 L427.95,344.91 L428.69,349.40 L429.42,352.33 L429.58,352.76 L429.75,353.16 L429.91,353.52 L430.07,353.83 L430.24,354.07 L430.40,354.21 L430.81,354.43 L431.21,354.59 L431.62,354.72 L432.03,354.82 L432.44,354.90 L432.85,354.96 L434.24,355.17 L435.64,355.35 L437.03,355.49 L438.43,355.60 L439.82,355.70 L441.22,355.79 L443.65,355.92 L446.08,356.01 L448.52,356.09 L450.95,356.17 L453.39,356.26 L455.82,356.39 L456.29,356.42 L456.76,356.45 L457.22,356.48 L457.69,356.52 L458.16,356.58 L458.63,356.66 L458.84,356.75 L459.06,356.91 L459.28,357.13 L459.50,357.36 L459.71,357.59 L459.93,357.78 L460.08,357.91 L460.23,358.04 L460.37,358.17 L460.52,358.28 L460.67,358.36 L460.81,358.39 L460.99,358.35 L461.17,358.24 L461.35,358.09 L461.53,357.92 L461.71,357.75 L461.89,357.60 L462.19,357.34 L462.50,357.03 L462.80,356.73 L463.11,356.46 L463.41,356.28 L463.72,356.20 L463.88,356.22 L464.03,356.27 L464.19,356.34 L464.35,356.43 L464.51,356.54 L464.66,356.66 L465.10,357.46 L465.55,359.05 L465.99,361.18 L466.43,363.64 L466.87,366.20 L467.31,368.61 L467.67,370.56 L468.04,372.62 L468.41,374.78 L468.78,377.02 L469.14,379.33 L469.51,381.70 L469.55,381.93 L469.58,382.17 L469.62,382.42 L469.65,382.67 L469.69,382.92 L469.72,383.16" stroke="#ff0000" stroke-width="2.9"/>
</g>
<rect x="59.7" y="19.9" width="107.6" height="82.8" fill="none" stroke="#ff00ff" stroke-width="1.3"/>
<path d="M104.9,102.6 L157.6,195.2" stroke="#1a1a1a" stroke-width="0.9" fill="none"/>
<path d="M159.8,199.2 L148.2,190.6 L155.0,192.0 L158.0,185.2 Z" fill="#000"/>
<rect x="85.8" y="207.3" width="202.0" height="147.89999999999998" fill="#fff"/>
<g clip-path="url(#ci)" fill="none" stroke-linejoin="round">
<path d="M73.90,191.40 L95.67,191.40 L101.74,228.40 L161.31,228.40 L162.66,236.54 L168.06,236.54 L169.07,232.84 L173.46,232.84 L180.21,269.32 L239.55,269.32 L239.88,274.50 L245.28,274.50 L245.79,271.54 L249.67,271.54 L261.48,346.58 L323.31,346.58" stroke="#000" stroke-width="2.9"/>
<path d="M78.62,199.61 L79.97,199.53 L81.33,199.42 L82.68,199.30 L84.03,199.17 L85.60,198.92 L87.18,198.52 L88.75,198.06 L90.33,197.62 L91.90,197.30 L93.48,197.17 L93.95,197.20 L94.43,197.27 L94.91,197.39 L95.39,197.56 L95.87,197.78 L96.34,198.06 L96.63,198.63 L96.92,199.85 L97.20,201.50 L97.49,203.37 L97.78,205.25 L98.06,206.94 L98.61,209.96 L99.15,213.18 L99.69,216.44 L100.23,219.56 L100.77,222.37 L101.31,224.70 L101.52,225.55 L101.73,226.43 L101.95,227.27 L102.16,227.96 L102.37,228.44 L102.59,228.62 L102.87,228.60 L103.15,228.55 L103.43,228.47 L103.71,228.38 L103.99,228.28 L104.28,228.18 L104.78,227.95 L105.29,227.64 L105.79,227.30 L106.30,226.96 L106.81,226.67 L107.31,226.48 L107.93,226.31 L108.55,226.15 L109.17,226.01 L109.79,225.91 L110.41,225.84 L111.03,225.81 L113.84,225.85 L116.65,225.96 L119.46,226.11 L122.28,226.27 L125.09,226.43 L127.90,226.55 L133.07,226.69 L138.24,226.79 L143.41,226.88 L148.58,226.98 L153.75,227.13 L158.92,227.36 L159.29,227.39 L159.66,227.42 L160.03,227.46 L160.40,227.51 L160.77,227.58 L161.14,227.66 L161.51,227.90 L161.88,228.39 L162.24,229.03 L162.61,229.74 L162.97,230.42 L163.34,230.99 L163.82,231.68 L164.31,232.42 L164.79,233.13 L165.27,233.74 L165.76,234.16 L166.24,234.32 L166.60,234.27 L166.96,234.13 L167.32,233.93 L167.68,233.70 L168.04,233.45 L168.40,233.21 L168.77,232.92 L169.14,232.54 L169.51,232.15 L169.88,231.79 L170.26,231.53 L170.63,231.43 L171.06,231.44 L171.49,231.47 L171.93,231.51 L172.36,231.57 L172.79,231.64 L173.23,231.73 L173.60,232.20 L173.98,233.33 L174.36,234.89 L174.73,236.70 L175.11,238.55 L175.49,240.24 L176.28,243.82 L177.06,247.89 L177.85,252.09 L178.64,256.08 L179.43,259.52 L180.21,262.07 L180.44,262.66 L180.66,263.25 L180.89,263.79 L181.11,264.24 L181.34,264.55 L181.56,264.66 L181.90,264.64 L182.24,264.60 L182.57,264.53 L182.91,264.46 L183.25,264.37 L183.59,264.29 L184.00,264.16 L184.41,263.99 L184.82,263.81 L185.23,263.64 L185.64,263.52 L186.05,263.48 L187.61,263.61 L189.17,263.96 L190.73,264.47 L192.28,265.04 L193.84,265.63 L195.40,266.14 L197.35,266.73 L199.30,267.34 L201.26,267.96 L203.21,268.57 L205.16,269.15 L207.11,269.69 L209.66,270.34 L212.21,270.96 L214.76,271.54 L217.30,272.10 L219.85,272.65 L222.40,273.17 L224.95,273.64 L227.51,274.05 L230.06,274.44 L232.62,274.86 L235.17,275.35 L237.72,275.98 L238.09,276.10 L238.47,276.23 L238.84,276.38 L239.21,276.54 L239.58,276.71 L239.95,276.87 L240.29,277.27 L240.62,277.91 L240.96,278.67 L241.30,279.45 L241.64,280.14 L241.98,280.63 L242.21,280.88 L242.45,281.12 L242.68,281.35 L242.92,281.53 L243.16,281.66 L243.39,281.71 L243.72,281.65 L244.05,281.48 L244.37,281.24 L244.70,280.95 L245.02,280.65 L245.35,280.36 L245.74,279.94 L246.14,279.41 L246.53,278.84 L246.93,278.33 L247.32,277.97 L247.71,277.83 L247.99,277.84 L248.28,277.85 L248.56,277.86 L248.84,277.87 L249.12,277.87 L249.40,277.88 L249.74,278.19 L250.08,279.01 L250.41,280.17 L250.75,281.53 L251.09,282.93 L251.43,284.23 L253.11,290.75 L254.80,298.13 L256.49,306.01 L258.18,314.01 L259.86,321.77 L261.55,328.92 L261.83,330.11 L262.11,331.36 L262.39,332.59 L262.67,333.71 L262.96,334.63 L263.24,335.26 L263.46,335.62 L263.69,335.96 L263.91,336.25 L264.14,336.49 L264.36,336.65 L264.59,336.71 L264.98,336.64 L265.38,336.46 L265.77,336.20 L266.16,335.90 L266.56,335.61 L266.95,335.37 L267.89,334.85 L268.84,334.29 L269.78,333.76 L270.73,333.29 L271.68,332.95 L272.62,332.79 L275.08,332.68 L277.54,332.61 L279.99,332.58 L282.45,332.57 L284.91,332.59 L287.37,332.63 L291.17,332.70 L294.96,332.77" stroke="#0000ff" stroke-width="2.9"/>
<path d="M78.96,255.04 L80.05,253.04 L81.13,251.10 L82.22,249.20 L83.31,247.33 L84.39,245.46 L85.48,243.57 L86.36,241.98 L87.24,240.34 L88.13,238.70 L89.01,237.11 L89.89,235.63 L90.78,234.32 L91.28,233.60 L91.79,232.88 L92.29,232.19 L92.80,231.58 L93.31,231.09 L93.81,230.77 L94.02,230.68 L94.22,230.59 L94.42,230.52 L94.62,230.45 L94.83,230.41 L95.03,230.40 L95.28,230.45 L95.52,230.59 L95.77,230.81 L96.02,231.09 L96.27,231.40 L96.51,231.73 L97.02,232.79 L97.53,234.45 L98.03,236.52 L98.54,238.80 L99.04,241.09 L99.55,243.20 L99.94,244.82 L100.34,246.56 L100.73,248.32 L101.12,249.96 L101.52,251.38 L101.91,252.45 L102.12,252.91 L102.33,253.37 L102.54,253.79 L102.75,254.13 L102.95,254.36 L103.16,254.45 L103.40,254.41 L103.65,254.30 L103.89,254.15 L104.13,253.96 L104.37,253.76 L104.61,253.56 L105.12,253.05 L105.62,252.38 L106.13,251.63 L106.64,250.85 L107.14,250.11 L107.65,249.49 L108.13,248.98 L108.61,248.50 L109.08,248.04 L109.56,247.61 L110.04,247.23 L110.52,246.90 L112.71,245.62 L114.91,244.54 L117.10,243.60 L119.29,242.76 L121.49,241.98 L123.68,241.20 L126.13,240.34 L128.58,239.50 L131.02,238.71 L133.47,237.98 L135.92,237.32 L138.36,236.76 L141.79,236.03 L145.21,235.30 L148.64,234.64 L152.06,234.09 L155.49,233.72 L158.92,233.58 L159.26,233.58 L159.60,233.60 L159.95,233.62 L160.29,233.65 L160.63,233.68 L160.97,233.73 L161.31,233.86 L161.65,234.14 L161.99,234.53 L162.33,234.96 L162.66,235.40 L163.00,235.80 L163.49,236.41 L163.98,237.13 L164.47,237.86 L164.96,238.50 L165.45,238.96 L165.94,239.13 L166.35,239.06 L166.76,238.88 L167.17,238.61 L167.58,238.30 L167.99,237.97 L168.40,237.65 L168.88,237.21 L169.37,236.65 L169.85,236.06 L170.34,235.52 L170.82,235.13 L171.30,234.99 L171.61,235.00 L171.91,235.04 L172.21,235.10 L172.52,235.19 L172.82,235.30 L173.12,235.43 L173.46,236.04 L173.80,237.40 L174.14,239.27 L174.48,241.39 L174.81,243.52 L175.15,245.42 L175.72,248.47 L176.30,251.71 L176.87,254.98 L177.44,258.10 L178.02,260.89 L178.59,263.18 L178.86,264.11 L179.13,265.03 L179.40,265.87 L179.67,266.62 L179.94,267.21 L180.21,267.62 L180.44,267.86 L180.66,268.09 L180.89,268.29 L181.11,268.44 L181.34,268.55 L181.56,268.58 L181.96,268.52 L182.35,268.37 L182.74,268.15 L183.14,267.90 L183.53,267.67 L183.93,267.47 L184.40,267.26 L184.87,267.03 L185.34,266.81 L185.81,266.62 L186.29,266.49 L186.76,266.44 L188.20,266.51 L189.64,266.71 L191.08,266.99 L192.52,267.33 L193.96,267.67 L195.40,267.99 L197.60,268.47 L199.80,269.01 L202.00,269.57 L204.20,270.13 L206.40,270.68 L208.60,271.17 L213.45,272.09 L218.31,272.86 L223.16,273.59 L228.01,274.36 L232.87,275.30 L237.72,276.50 L238.09,276.62 L238.47,276.75 L238.84,276.91 L239.21,277.07 L239.58,277.23 L239.95,277.39 L240.29,277.79 L240.62,278.42 L240.96,279.18 L241.30,279.96 L241.64,280.65 L241.98,281.13 L242.21,281.38 L242.45,281.63 L242.68,281.85 L242.92,282.03 L243.16,282.15 L243.39,282.20 L243.72,282.14 L244.05,281.98 L244.37,281.73 L244.70,281.44 L245.02,281.13 L245.35,280.84 L245.74,280.42 L246.14,279.88 L246.53,279.31 L246.93,278.80 L247.32,278.44 L247.71,278.30 L247.99,278.31 L248.28,278.31 L248.56,278.32 L248.84,278.32 L249.12,278.33 L249.40,278.34 L249.74,278.65 L250.08,279.46 L250.41,280.62 L250.75,281.98 L251.09,283.38 L251.43,284.67 L253.11,291.18 L254.80,298.55 L256.49,306.41 L258.18,314.41 L259.86,322.16 L261.55,329.30 L261.83,330.48 L262.11,331.73 L262.39,332.96 L262.67,334.08 L262.96,334.99 L263.24,335.62 L263.46,335.98 L263.69,336.32 L263.91,336.61 L264.14,336.84 L264.36,337.00 L264.59,337.06 L264.98,336.99 L265.38,336.81 L265.77,336.54 L266.16,336.24 L266.56,335.95 L266.95,335.71 L267.89,335.18 L268.84,334.62 L269.78,334.08 L270.73,333.60 L271.68,333.26 L272.62,333.09 L275.08,332.96 L277.54,332.88 L279.99,332.83 L282.45,332.80 L284.91,332.81 L287.37,332.83 L291.17,332.87 L294.96,332.92" stroke="#00ff00" stroke-width="2.9"/>
<path d="M78.68,389.01 L79.41,385.33 L80.14,381.68 L80.88,378.09 L81.61,374.59 L82.34,371.22 L82.99,368.34 L83.64,365.55 L84.30,362.83 L84.95,360.15 L85.60,357.48 L86.25,354.79 L87.12,351.16 L87.99,347.49 L88.85,343.84 L89.72,340.25 L90.58,336.78 L91.45,333.48 L92.01,331.37 L92.58,329.23 L93.14,327.15 L93.70,325.20 L94.26,323.46 L94.83,322.01 L95.06,321.44 L95.30,320.86 L95.53,320.31 L95.77,319.85 L96.01,319.54 L96.24,319.42 L96.57,319.50 L96.90,319.71 L97.22,320.02 L97.55,320.40 L97.87,320.83 L98.20,321.27 L98.59,321.98 L98.99,322.96 L99.38,324.08 L99.78,325.19 L100.17,326.15 L100.56,326.82 L100.80,327.12 L101.05,327.41 L101.29,327.67 L101.53,327.88 L101.77,328.03 L102.01,328.08 L102.28,327.98 L102.54,327.70 L102.81,327.29 L103.07,326.79 L103.34,326.25 L103.60,325.71 L103.94,324.92 L104.28,323.94 L104.61,322.83 L104.95,321.66 L105.29,320.50 L105.62,319.42 L106.10,317.95 L106.58,316.44 L107.06,314.95 L107.54,313.52 L108.02,312.18 L108.49,310.98 L109.83,308.07 L111.16,305.48 L112.49,303.11 L113.83,300.89 L115.16,298.71 L116.49,296.48 L118.44,293.11 L120.40,289.72 L122.35,286.39 L124.30,283.22 L126.25,280.29 L128.20,277.68 L130.39,275.08 L132.57,272.65 L134.75,270.40 L136.93,268.31 L139.12,266.37 L141.30,264.59 L143.51,262.94 L145.72,261.45 L147.93,260.06 L150.14,258.72 L152.35,257.39 L154.56,256.00 L155.52,255.34 L156.47,254.64 L157.43,253.93 L158.39,253.28 L159.34,252.72 L160.30,252.30 L160.64,252.18 L160.97,252.06 L161.31,251.96 L161.65,251.87 L161.99,251.81 L162.33,251.78 L162.72,251.92 L163.11,252.28 L163.51,252.78 L163.90,253.34 L164.29,253.87 L164.69,254.30 L164.95,254.55 L165.21,254.81 L165.46,255.06 L165.72,255.28 L165.98,255.43 L166.24,255.48 L166.54,255.43 L166.85,255.30 L167.15,255.09 L167.46,254.84 L167.76,254.57 L168.06,254.30 L168.46,253.85 L168.85,253.23 L169.24,252.55 L169.64,251.88 L170.03,251.33 L170.43,250.97 L170.72,250.80 L171.02,250.65 L171.32,250.51 L171.62,250.40 L171.92,250.33 L172.21,250.30 L172.48,250.48 L172.74,250.97 L173.01,251.67 L173.27,252.51 L173.54,253.42 L173.80,254.30 L174.36,256.42 L174.93,259.04 L175.49,261.97 L176.05,265.01 L176.61,267.95 L177.18,270.58 L177.46,271.84 L177.74,273.16 L178.02,274.44 L178.30,275.61 L178.58,276.57 L178.86,277.24 L179.08,277.63 L179.30,277.99 L179.52,278.31 L179.74,278.56 L179.96,278.73 L180.18,278.79 L180.63,278.73 L181.09,278.57 L181.55,278.34 L182.00,278.08 L182.46,277.83 L182.91,277.61 L183.80,277.21 L184.69,276.77 L185.58,276.34 L186.47,275.97 L187.36,275.71 L188.25,275.61 L190.00,275.62 L191.75,275.66 L193.51,275.71 L195.27,275.77 L197.02,275.84 L198.78,275.91 L201.63,276.04 L204.48,276.22 L207.33,276.42 L210.18,276.63 L213.03,276.84 L215.89,277.02 L219.53,277.19 L223.17,277.30 L226.80,277.41 L230.44,277.56 L234.08,277.78 L237.72,278.13 L238.09,278.19 L238.47,278.30 L238.84,278.44 L239.21,278.63 L239.58,278.84 L239.95,279.09 L240.29,279.48 L240.62,280.11 L240.96,280.86 L241.30,281.63 L241.64,282.31 L241.98,282.79 L242.21,283.03 L242.45,283.27 L242.68,283.49 L242.92,283.66 L243.16,283.78 L243.39,283.83 L243.72,283.76 L244.05,283.59 L244.37,283.33 L244.70,283.03 L245.02,282.72 L245.35,282.42 L245.74,281.99 L246.14,281.45 L246.53,280.87 L246.93,280.35 L247.32,279.97 L247.71,279.83 L247.99,279.83 L248.28,279.83 L248.56,279.83 L248.84,279.83 L249.12,279.83 L249.40,279.83 L249.74,280.13 L250.08,280.94 L250.41,282.09 L250.75,283.44 L251.09,284.83 L251.43,286.12 L253.11,292.59 L254.80,299.92 L256.49,307.75 L258.18,315.71 L259.86,323.42 L261.55,330.52 L261.83,331.70 L262.11,332.94 L262.39,334.16 L262.67,335.27 L262.96,336.19 L263.24,336.81 L263.46,337.16 L263.69,337.49 L263.91,337.78 L264.14,338.01 L264.36,338.16 L264.59,338.22 L264.98,338.14 L265.38,337.95 L265.77,337.67 L266.16,337.36 L266.56,337.06 L266.95,336.81 L267.89,336.26 L268.84,335.68 L269.78,335.12 L270.73,334.63 L271.68,334.26 L272.62,334.07 L275.08,333.89 L277.54,333.75 L279.99,333.64 L282.45,333.57 L284.91,333.52 L287.37,333.48 L291.17,333.44 L294.96,333.40" stroke="#ff0000" stroke-width="2.9"/>
</g>
<path d="M141.40,355.2 v-2.2 M141.40,207.3 v2.2 M208.90,355.2 v-2.2 M208.90,207.3 v2.2 M276.40,355.2 v-2.2 M276.40,207.3 v2.2 M85.8,339.40 h2.2 M287.8,339.40 h-2.2 M85.8,302.40 h2.2 M287.8,302.40 h-2.2 M85.8,265.40 h2.2 M287.8,265.40 h-2.2 M85.8,228.40 h2.2 M287.8,228.40 h-2.2" stroke="#262626" stroke-width="0.9" fill="none"/>
<rect x="85.8" y="207.3" width="202.0" height="147.89999999999998" fill="none" stroke="#262626" stroke-width="0.9"/>
<g font-family="'Liberation Sans', Arial, sans-serif" font-size="12.6" fill="#262626">
<text x="141.40" y="371.0" text-anchor="middle">2000</text>
<text x="208.90" y="371.0" text-anchor="middle">4000</text>
<text x="276.40" y="371.0" text-anchor="middle">6000</text>
<text x="82.6" y="344.40" text-anchor="end">0.8</text>
<text x="82.6" y="307.40" text-anchor="end">0.85</text>
<text x="82.6" y="270.40" text-anchor="end">0.9</text>
<text x="82.6" y="233.40" text-anchor="end">0.95</text>
</g>
<g font-family="'Liberation Serif', 'Times New Roman', serif" font-size="16" fill="#262626">
<text x="54.30" y="408.7" text-anchor="middle">0</text>
<text x="135.88" y="408.7" text-anchor="middle">0.5</text>
<text x="217.47" y="408.7" text-anchor="middle">1</text>
<text x="299.05" y="408.7" text-anchor="middle">1.5</text>
<text x="380.63" y="408.7" text-anchor="middle">2</text>
<text x="462.22" y="408.7" text-anchor="middle">2.5</text>
<text x="543.80" y="408.7" text-anchor="middle">3</text>
<text x="47.6" y="392.70" text-anchor="end">0</text>
<text x="47.6" y="355.10" text-anchor="end">0.1</text>
<text x="47.6" y="317.50" text-anchor="end">0.2</text>
<text x="47.6" y="279.90" text-anchor="end">0.3</text>
<text x="47.6" y="242.30" text-anchor="end">0.4</text>
<text x="47.6" y="204.70" text-anchor="end">0.5</text>
<text x="47.6" y="167.10" text-anchor="end">0.6</text>
<text x="47.6" y="129.50" text-anchor="end">0.7</text>
<text x="47.6" y="91.90" text-anchor="end">0.8</text>
<text x="47.6" y="54.30" text-anchor="end">0.9</text>
<text x="47.6" y="16.70" text-anchor="end">1</text>
<text x="508.2" y="435.9" font-size="20">×</text>
<text x="522.3" y="432.6" textLength="13.4" lengthAdjust="spacingAndGlyphs">10</text>
<text x="536.2" y="426.1" font-size="13.6">4</text>
</g>
<g font-family="'Liberation Serif', 'Times New Roman', serif" font-size="17.9" fill="#262626">
<text x="299" y="428.7" text-anchor="middle">time(s)</text>
<text transform="translate(19.5,199.5) rotate(-90)" text-anchor="middle" font-size="17.3">SOC</text>
</g>
<rect x="364.6" y="22.0" width="167.2" height="75.3" fill="#fff" stroke="#262626" stroke-width="0.9"/>
<g font-family="'Liberation Serif', 'Times New Roman', serif" font-size="14.85" fill="#000">
<path d="M370.8,34.10 H415.4" stroke="#000" stroke-width="2.9" fill="none"/>
<text x="419.2" y="38.80">SOC-reference</text>
<path d="M370.8,52.05 H415.4" stroke="#0000ff" stroke-width="2.9" fill="none"/>
<text x="419.2" y="56.75">SOC-initial-100%</text>
<path d="M370.8,70.00 H415.4" stroke="#00ff00" stroke-width="2.9" fill="none"/>
<text x="419.2" y="74.70">SOC-initial-90%</text>
<path d="M370.8,87.95 H415.4" stroke="#ff0000" stroke-width="2.9" fill="none"/>
<text x="419.2" y="92.65">SOC-initial-70%</text>
</g>
</svg>
</body></html>
